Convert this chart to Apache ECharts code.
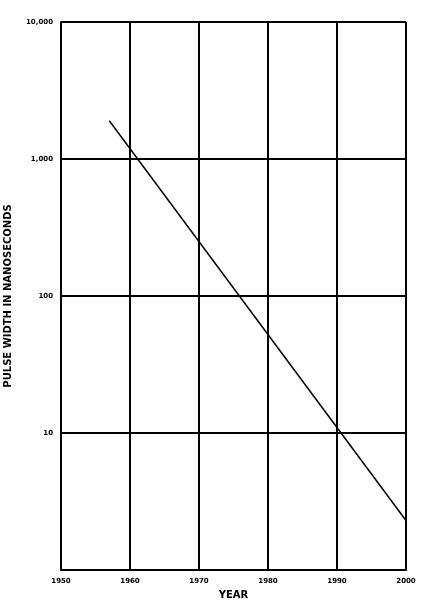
<!DOCTYPE html>
<html>
<head>
<meta charset="utf-8">
<script src="https://cdn.jsdelivr.net/npm/echarts@6/dist/echarts.min.js"></script>
<style>html,body{margin:0;background:#fff}#main{width:430px;height:608px}</style>
</head>
<body>
<div id="main"></div>
<script>
// trend line endpoints
var years = [1957, 2000];
var pulseWidth = [1900, 2.3];
var yearTicks = [1950, 1960, 1970, 1980, 1990, 2000];

var myChart = echarts.init(document.getElementById('main'));
var option = {
    animation: false,
    grid: { left: 61, right: 24, top: 22, bottom: 38, containLabel: false, outerBoundsMode: 'none' },
    xAxis: {
        type: 'value',
        min: 1950,
        max: 2000,
        interval: 10,
        name: 'YEAR',
        nameLocation: 'middle',
        nameGap: 20,
        nameTextStyle: { color: '#000', fontSize: 10, fontWeight: 'bold', fontFamily: 'DejaVu Sans' },
        axisLine: { lineStyle: { color: '#000', width: 2 } },
        axisTick: { show: false },
        splitLine: { lineStyle: { color: '#000', width: 2 } },
        axisLabel: {
            color: '#000', fontSize: 7, fontWeight: 'bold', fontFamily: 'DejaVu Sans',
            formatter: function (v) { return yearTicks.indexOf(v) >= 0 ? String(v) : ''; }
        }
    },
    yAxis: {
        type: 'log',
        logBase: 10,
        min: 1,
        max: 10000,
        name: 'PULSE WIDTH IN NANOSECONDS',
        nameLocation: 'middle',
        nameGap: 48,
        nameTextStyle: { color: '#000', fontSize: 10, fontWeight: 'bold', fontFamily: 'DejaVu Sans' },
        axisLine: { show: true, lineStyle: { color: '#000', width: 2 } },
        axisTick: { show: false },
        minorSplitLine: { show: false },
        splitLine: { lineStyle: { color: '#000', width: 2 } },
        axisLabel: {
            color: '#000', fontSize: 7, fontWeight: 'bold', fontFamily: 'DejaVu Sans',
            formatter: function (v) { return v <= 1 ? '' : v.toLocaleString('en-US'); }
        }
    },
    series: [{
        type: 'line',
        data: years.map(function (y, i) { return [y, pulseWidth[i]]; }),
        symbol: 'none',
        lineStyle: { color: '#000', width: 1.5 }
    }]
};
myChart.setOption(option);
</script>
</body>
</html>
